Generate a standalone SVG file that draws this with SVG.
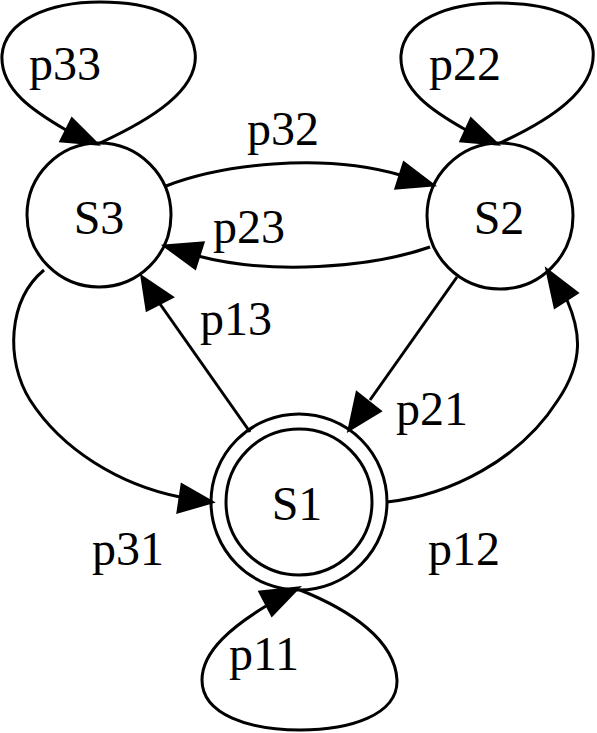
<svg xmlns="http://www.w3.org/2000/svg" width="597" height="733" viewBox="0 0 597 733">
<style>
.n{fill:none;stroke:#000;stroke-width:3}
.e{fill:none;stroke:#000;stroke-width:3}
.a{fill:#000;stroke:#000;stroke-width:3;stroke-linejoin:miter}
.t{font-family:'Liberation Serif','Times New Roman',Times,serif;font-size:48px;fill:#000;text-anchor:middle}
</style>
<rect width="597" height="733" fill="#fff"/>
<g id="S3"><circle class="n" cx="99" cy="215" r="72"/><text class="t" x="99" y="234">S3</text></g>
<g id="S2"><circle class="n" cx="500" cy="216" r="73"/><text class="t" x="499" y="234">S2</text></g>
<g id="S1"><circle class="n" cx="299" cy="502" r="88"/><circle class="n" cx="299" cy="502" r="73"/><text class="t" x="297" y="520">S1</text></g>
<g id="edges">
<g id="e33"><path class="e" d="M100,143 C150,120 200,90 195,52 C190,15 150,2 100,2 C50,2 5,20 2,55 C0,90 35,112 66,130"/><polygon class="a" points="97,144 61,141 72,119"/><text class="t" x="65" y="80">p33</text></g>
<g id="e22"><path class="e" d="M500,143 C550,120 597,90 593,50 C589,15 548,3 498,3 C448,3 404,20 401,55 C399,90 434,112 466,130"/><polygon class="a" points="497,144 461,141 471,119"/><text class="t" x="465" y="80">p22</text></g>
<g id="e32"><path class="e" d="M166,186 C220,165 320,152 400,175"/><polygon class="a" points="433,185 396,188 404,163"/><text class="t" x="283" y="145">p32</text></g>
<g id="e23"><path class="e" d="M430,247 C370,268 270,275 198,256"/><polygon class="a" points="165,246 195,268 203,243"/><text class="t" x="249" y="243">p23</text></g>
<g id="e31"><path class="e" d="M44,270 C8,300 5,360 30,400 C62,450 120,485 180,497"/><polygon class="a" points="212,502 178,512 182,485"/><text class="t" x="128" y="565">p31</text></g>
<g id="e13"><path class="e" d="M250,432 L160,304"/><polygon class="a" points="142,277 147,310 172,297"/><text class="t" x="236" y="335">p13</text></g>
<g id="e21"><path class="e" d="M457,277 L370,400"/><polygon class="a" points="349,430 357,393 380,411"/><text class="t" x="432" y="425">p21</text></g>
<g id="e12"><path class="e" d="M387,502 C450,495 520,460 558,400 C585,360 580,330 567,300"/><polygon class="a" points="547,270 555,307 577,293"/><text class="t" x="464" y="565">p12</text></g>
<g id="e11"><path class="e" d="M300,590 C350,610 395,640 397,680 C398,715 350,730 300,730 C250,730 202,715 202,680 C202,650 235,625 266,606"/><polygon class="a" points="298,588 260,592 272,615"/><text class="t" x="264" y="670">p11</text></g>
</g>
</svg>
